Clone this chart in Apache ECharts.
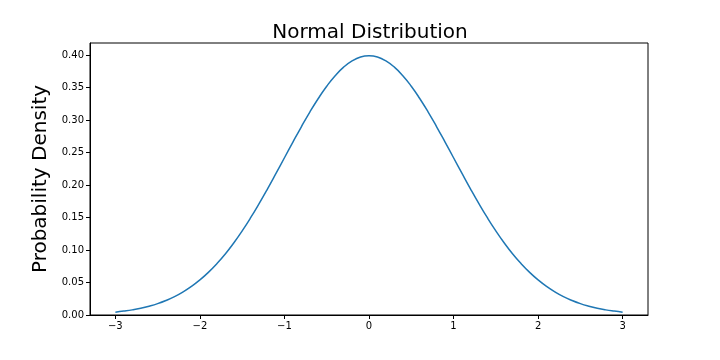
<!DOCTYPE html>
<html><head><meta charset="utf-8">
<script src="https://cdn.jsdelivr.net/npm/echarts@6/dist/echarts.min.js"></script>
<style>html,body{margin:0;padding:0;background:#fff}#c{width:720px;height:360px}</style>
</head><body><div id="c"></div>
<script>
const xValues = [-3.0,-2.9,-2.8,-2.7,-2.6,-2.5,-2.4,-2.3,-2.2,-2.1,-2.0,-1.9,-1.8,-1.7,-1.6,-1.5,-1.4,-1.3,-1.2,-1.1,-1.0,-0.9,-0.8,-0.7,-0.6,-0.5,-0.4,-0.3,-0.2,-0.1,0.0,0.1,0.2,0.3,0.4,0.5,0.6,0.7,0.8,0.9,1.0,1.1,1.2,1.3,1.4,1.5,1.6,1.7,1.8,1.9,2.0,2.1,2.2,2.3,2.4,2.5,2.6,2.7,2.8,2.9,3.0];
const density = [0.0044,0.0060,0.0079,0.0104,0.0136,0.0175,0.0224,0.0283,0.0355,0.0440,0.0540,0.0656,0.0790,0.0940,0.1109,0.1295,0.1497,0.1714,0.1942,0.2179,0.2420,0.2661,0.2897,0.3123,0.3332,0.3521,0.3683,0.3814,0.3910,0.3970,0.3989,0.3970,0.3910,0.3814,0.3683,0.3521,0.3332,0.3123,0.2897,0.2661,0.2420,0.2179,0.1942,0.1714,0.1497,0.1295,0.1109,0.0940,0.0790,0.0656,0.0540,0.0440,0.0355,0.0283,0.0224,0.0175,0.0136,0.0104,0.0079,0.0060,0.0044];
const xTicks = [-3,-2,-1,0,1,2,3];
const titleText = 'Normal Distribution';
const yLabel = 'Probability Density';

const chart = echarts.init(document.getElementById('c'), null, {renderer:'canvas'});
const font = 'DejaVu Sans';
chart.setOption({
  animation:false,
  title:{text:titleText,left:365,top:18,textAlign:'center',
    textStyle:{fontFamily:font,fontSize:20,fontWeight:'normal',color:'#000'}},
  grid:{left:90,right:72,top:43,bottom:45,show:true,borderColor:'#000',borderWidth:1,backgroundColor:'transparent'},
  xAxis:{type:'value',min:-3.3,max:3.3,
    axisLine:{show:true,onZero:false,lineStyle:{color:'#000',width:1}},
    axisTick:{show:true,length:4,inside:false,customValues:xTicks,lineStyle:{color:'#000'}},
    axisLabel:{customValues:xTicks,fontFamily:font,fontSize:10,color:'#000',margin:6,
      formatter:v=>String(Math.round(v)).replace('-','\u2212')},
    splitLine:{show:false}},
  yAxis:{type:'value',min:0,max:0.4186,interval:0.05,
    name:yLabel,nameLocation:'middle',nameGap:33,
    nameTextStyle:{fontFamily:font,fontSize:20,color:'#000'},
    axisLine:{show:true,onZero:false,lineStyle:{color:'#000',width:1}},
    axisTick:{show:true,length:4,lineStyle:{color:'#000'}},
    axisLabel:{fontFamily:font,fontSize:10,color:'#000',margin:6,
      formatter:v=>v.toFixed(2),showMaxLabel:false},
    splitLine:{show:false}},
  series:[{type:'line',data:xValues.map((x,i)=>[x,density[i]]),smooth:true,showSymbol:false,
    lineStyle:{color:'#1f77b4',width:1.5}}]
});
</script></body></html>
